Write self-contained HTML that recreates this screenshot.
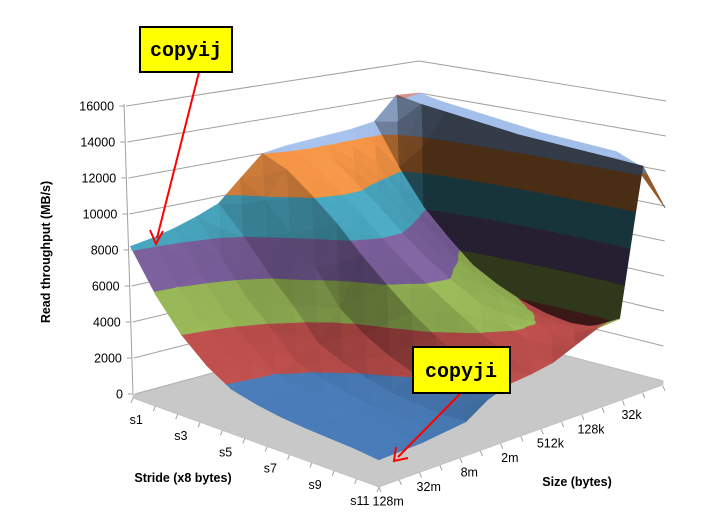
<!DOCTYPE html>
<html><head><meta charset="utf-8"><title>Memory mountain</title>
<style>
html,body{margin:0;padding:0;background:#fff;}
svg{display:block;font-family:"Liberation Sans",Arial,sans-serif;}
</style></head>
<body>
<svg id="chart" width="720" height="520" viewBox="0 0 720 520" xmlns="http://www.w3.org/2000/svg">
  <rect x="0" y="0" width="720" height="520" fill="#ffffff"/>
  <g id="walls"></g>
  <g id="floor"></g>
  <g id="surface"></g>
  <g id="axes"></g>
  <text x="0" y="0" transform="translate(50,252) rotate(-90)" text-anchor="middle" font-size="12.5" font-weight="bold" fill="#000">Read throughput (MB/s)</text>
  <text x="183" y="482" text-anchor="middle" font-size="12.5" font-weight="bold" fill="#000">Stride (x8 bytes)</text>
  <text x="577" y="486" text-anchor="middle" font-size="12.5" font-weight="bold" fill="#000">Size (bytes)</text>
  <g>
    <line x1="199" y1="72" x2="157" y2="238" stroke="#ff0000" stroke-width="2"/>
    <polyline points="150,230 156,244 163,231" fill="none" stroke="#ff0000" stroke-width="2"/>
    <rect x="140" y="27" width="92" height="45" fill="#ffff00" stroke="#000" stroke-width="2"/>
    <text x="186" y="56" text-anchor="middle" font-family="Liberation Mono, monospace" font-weight="bold" font-size="20">copyij</text>
  </g>
  <g>
    <line x1="461" y1="393" x2="398" y2="457" stroke="#ff0000" stroke-width="2"/>
    <polyline points="396,447 394,461 408,458" fill="none" stroke="#ff0000" stroke-width="2"/>
    <rect x="413" y="347" width="97" height="46" fill="#ffff00" stroke="#000" stroke-width="2"/>
    <text x="461" y="377" text-anchor="middle" font-family="Liberation Mono, monospace" font-weight="bold" font-size="20">copyji</text>
  </g>
</svg>
<script>
// ---- data ----
const strides = ['s1','s2','s3','s4','s5','s6','s7','s8','s9','s10','s11'];
const sizes = ['128m','64m','32m','16m','8m','4m','2m','1m','512k','256k','128k','64k','32k','16k'];
const yTicks = [0,2000,4000,6000,8000,10000,12000,14000,16000];
const strideLabels = ['s1','s3','s5','s7','s9','s11'];
const sizeLabels = ['128m','32m','8m','2m','512k','128k','32k'];
const rowS1  = [8200,8400,8700,9100,9600,10800,12000,12200,12300,12400,12500,12700,14100,14000];
const rowS2  = [5800,6000,6400,7000,8000,9800,11300,11500,11500,11200,10800,10200,13800,13700];
const rowS3  = [4000,4200,4500,5100,6200,8200,10100,10400,10300,9700,9000,8100,13600,13500];
const rowS4  = [2700,2900,3200,3700,4700,6600,8800,9200,9100,8400,7600,6600,13400,13300];
const rowS5  = [1800,1900,2000,2300,3000,4600,7300,7900,7800,7100,6300,5300,13200,13100];
const rowS6  = [1400,1500,1600,1800,2300,3500,6000,6700,6700,6000,5300,4500,13000,12900];
const rowS7  = [1100,1200,1300,1400,1800,2700,4800,5700,5800,5200,4600,3900,12900,12800];
const rowS8  = [900,950,1000,1100,1400,2100,3800,4800,5000,4500,4100,3500,12800,12700];
const rowS9  = [750,800,850,950,1200,1800,3000,3900,4300,4100,3800,3300,12700,12600];
const rowS10 = [600,650,700,800,1000,1600,2400,3200,3600,3800,3700,3400,12600,12000];
const rowS11 = [400,500,600,800,1000,1800,2300,2500,2800,3400,4000,4200,12500,9900];
const throughput = [rowS1,rowS2,rowS3,rowS4,rowS5,rowS6,rowS7,rowS8,rowS9,rowS10,rowS11];

// ---- projection ----
const NS = 'http://www.w3.org/2000/svg';
const cO = {x:135,y:394,s:0.018,l:-0.00056};
const cA = {x:379,y:468,s:0.0205,l:-0.0006};
const cC = {x:663,y:381,s:0.0175,l:0.0002};
const cB = {x:419,y:317,s:0.016,l:0};
const nI = strides.length-1, nJ = sizes.length-1;
function bil(k,a,b){return cO[k]*(1-a)*(1-b)+cA[k]*a*(1-b)+cC[k]*a*b+cB[k]*(1-a)*b;}
function proj(i,j,z){const a=i/nI,b=j/nJ;return [bil('x',a,b)+bil('l',a,b)*z, bil('y',a,b)-bil('s',a,b)*z];}
function mk(tag,attrs,parent){const e=document.createElementNS(NS,tag);for(const k in attrs)e.setAttribute(k,attrs[k]);parent.appendChild(e);return e;}

const walls=document.getElementById('walls'), floor=document.getElementById('floor'), surf=document.getElementById('surface'), axes=document.getElementById('axes');

yTicks.forEach(function(t){
  const p0=proj(0,0,t),p1=proj(0,nJ,t),p2=proj(nI,nJ,t);
  const g=mk('polyline',{points:p0.join(',')+' '+p1.join(',')+' '+p2.join(','),fill:'none',stroke:'#a0a0a0','stroke-width':1},walls);
  
  
});
(function(){
  const p0=proj(0,0,0),p1=proj(0,nJ,0),p2=proj(nI,nJ,0),p3=proj(nI,0,0);
  const f=mk('polygon',{points:[[p0[0]-2,p0[1]+1],p1,[p2[0],p2[1]],[p2[0],p2[1]+4],[p3[0],p3[1]+19],[p0[0]-2,p0[1]+4]].map(p=>p.join(',')).join(' '),fill:'#c8c8c8',stroke:'#bdbdbd','stroke-width':0.7},floor);
  
  
})();

// ---- surface ----
const bandColors=['#4a7ebb','#c0504d','#9bbb59','#8064a2','#4bacc6','#f79646','#a7c3ee','#d99694'];
const bandStep=2000;
function hex(c){return [parseInt(c.substr(1,2),16),parseInt(c.substr(3,2),16),parseInt(c.substr(5,2),16)];}
function shade(c,b){let r=hex(c);if(b<=1){r=r.map(v=>Math.round(v*b));}else{const t=Math.min(1,b-1);r=r.map(v=>Math.round(v+(255-v)*t));}return 'rgb('+r.join(',')+')';}
function clip(poly,lo,keepAbove){
  const out=[];
  for(let k=0;k<poly.length;k++){
    const P=poly[k],Q=poly[(k+1)%poly.length];
    const pin=keepAbove?P[2]>=lo:P[2]<=lo, qin=keepAbove?Q[2]>=lo:Q[2]<=lo;
    if(pin)out.push(P);
    if(pin!==qin){const t=(lo-P[2])/(Q[2]-P[2]);out.push([P[0]+t*(Q[0]-P[0]),P[1]+t*(Q[1]-P[1]),lo]);}
  }
  return out;
}
const tris=[];
for(let i=0;i<nI;i++){for(let j=0;j<nJ;j++){
  const a=[i,j,throughput[i][j]],b=[i+1,j,throughput[i+1][j]],c=[i+1,j+1,throughput[i+1][j+1]],d=[i,j+1,throughput[i][j+1]];
  const m=[i+0.5,j+0.5,(a[2]+b[2]+c[2]+d[2])/4];
  [[a,b],[b,c],[c,d],[d,a]].forEach(function(e){
    const t=[e[0],e[1],m];
    const ci=(t[0][0]+t[1][0]+t[2][0])/3,cj=(t[0][1]+t[1][1]+t[2][1])/3;
    tris.push({t:t,depth:(nI-ci)+cj});
  });
}}
tris.sort((p,q)=>q.depth-p.depth);
tris.forEach(function(tr){
  const t=tr.t;
  const u=[t[1][0]-t[0][0],t[1][1]-t[0][1],(t[1][2]-t[0][2])/3000];
  const v=[t[2][0]-t[0][0],t[2][1]-t[0][1],(t[2][2]-t[0][2])/3000];
  let n=[u[1]*v[2]-u[2]*v[1],u[2]*v[0]-u[0]*v[2],u[0]*v[1]-u[1]*v[0]];
  if(n[2]<0)n=n.map(x=>-x);
  const nm=Math.hypot(n[0],n[1],n[2]);n=n.map(x=>x/nm);
  const lum=n[2]*0.8+0.3*Math.max(0,n[0])-0.5*Math.abs(n[1]);
  const br=0.3+0.85*Math.max(0,lum);
  const zs=t.map(p=>p[2]);
  const b0=Math.floor(Math.min.apply(null,zs)/bandStep),b1=Math.floor(Math.max.apply(null,zs)/bandStep);
  for(let k=b0;k<=b1;k++){
    let poly=clip(t,k*bandStep,true);
    if(poly.length<3)continue;
    poly=clip(poly,(k+1)*bandStep,false);
    if(poly.length<3)continue;
    const col=shade(bandColors[Math.max(0,Math.min(bandColors.length-1,k))],br);
    const pg=mk('polygon',{points:poly.map(p=>proj(p[0],p[1],p[2]).map(x=>x.toFixed(1)).join(',')).join(' '),fill:col,stroke:col,'stroke-width':0.6,'stroke-linejoin':'round'},surf);
    
    
  }
});

// ---- axes ----
(function(){
  const p0=proj(0,0,0),p1=proj(0,0,16000);
  const ax=mk('line',{x1:p0[0]-2,y1:p0[1],x2:p1[0]-2,y2:p1[1]-2,stroke:'#a0a0a0','stroke-width':1},axes);
  
  
  yTicks.forEach(function(t){
    const p=proj(0,0,t);
    const tk=mk('line',{x1:p[0]-7,y1:p[1],x2:p[0]-2,y2:p[1],stroke:'#a0a0a0','stroke-width':1},axes);
    
    
    const tx=mk('text',{x:p[0]-12,y:p[1]+4.5,'text-anchor':'end','font-size':12.5,fill:'#000'},axes);
    tx.textContent=String(t);
    
    
  });
  const fs=[133,398],fe=[379,487],re=[663,386];
  for(let k=0;k<=strides.length;k++){
    const f=k/strides.length,x=fs[0]+(fe[0]-fs[0])*f,y=fs[1]+(fe[1]-fs[1])*f;
    const tk=mk('line',{x1:x,y1:y,x2:x-2,y2:y+5,stroke:'#a0a0a0','stroke-width':1},axes);
    
    
  }
  strideLabels.forEach(function(s){
    const idx=strides.indexOf(s);
    const f=(idx+0.5)/strides.length;
    const x=fs[0]+(fe[0]-fs[0])*f-8,y=fs[1]+(fe[1]-fs[1])*f+22;
    const tx=mk('text',{x:x,y:y,'text-anchor':'middle','font-size':12.5,fill:'#000'},axes);
    tx.textContent=s;
    
    
  });
  for(let k=0;k<=sizes.length;k++){
    const f=k/sizes.length,x=fe[0]+(re[0]-fe[0])*f,y=fe[1]+(re[1]-fe[1])*f;
    const tk=mk('line',{x1:x,y1:y,x2:x+2,y2:y+5,stroke:'#a0a0a0','stroke-width':1},axes);
    
    
  }
  sizeLabels.forEach(function(s){
    const idx=sizes.indexOf(s);
    const f=(idx+0.5)/sizes.length;
    const x=fe[0]+(re[0]-fe[0])*f-1,y=fe[1]+(re[1]-fe[1])*f+22;
    const tx=mk('text',{x:x,y:y,'text-anchor':'middle','font-size':12.5,fill:'#000'},axes);
    tx.textContent=s;
    
    
  });
})();
</script>
</body></html>
